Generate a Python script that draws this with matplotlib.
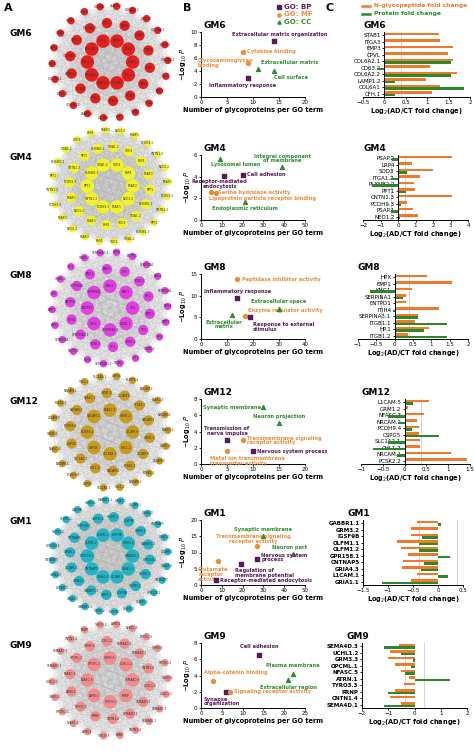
import numpy as np
import matplotlib.pyplot as plt
from itertools import combinations

W, H = 474, 755
BP_C, MF_C, CC_C = '#5a1a5a', '#ee8c3a', '#2f8f2f'
OR_C, GR_C = '#f07a2a', '#2a8a2a'

modules = ["GM6", "GM4", "GM8", "GM12", "GM1", "GM9"]
node_colors = ['#e61e1e', '#f2f22a', '#e23ee2', '#c89a1e', '#22b4c4', '#f28c8c']
ring_counts = [(10, 14, 22), (10, 16, 24), (8, 14, 22), (8, 14, 22), (10, 16, 24), (8, 14, 22)]

# ---------- bar data (N-glycopeptide, protein) ----------
genes = {
    "GM6": ["STAB1", "ITGA3", "EMP3", "CPVL", "COL6A2.1", "CD63.2", "COL6A2.2", "LAMP1.2", "COL6A1", "CFH.1"],
    "GM4": ["PSAP.2", "LRP4", "SOD3", "ITGA1.2", "PLXNB2.2", "PPT1", "CNTN1.3", "PCDH9.3", "PSAP.1", "NEO1.2"],
    "GM8": ["HPX", "EMP1", "KNG1", "SERPINA1", "ENTPD1", "ITIH4", "SERPINA3.1", "ITGB1.1", "HP.1", "ITGB1.2"],
    "GM12": ["L1CAM.5", "GRM1.2", "NFASC.3", "NRCAM.2", "PCDH9.4", "CSPG5", "SLC1A2.1", "CHL1.2", "NRCAM.1", "PCSK2.2"],
    "GM1": ["GABBR1.1", "GRM3.2", "IGSF9B", "OLFM1.1", "OLFM1.2", "GPR158.1", "CNTNAP5", "GRIA4.3", "L1CAM.1", "GRIA1.1"],
    "GM9": ["SEMA4D.3", "UCHL1.2", "GRM3.3", "OPCML.1", "NFASC.5", "ATRN.1", "TYRO3.3", "PRNP", "CNTN1.4", "SEMA4D.1"],
}
glyco_fc = {
    "GM6": [1.28, 1.3, 1.6, 1.48, 1.6, 1.07, 1.7, 0.98, 1.3, 1.12],
    "GM4": [3.1, 0.8, 2.0, 1.25, 0.9, 0.95, 3.1, 0.5, 0.85, 1.15],
    "GM8": [0.88, 1.57, 0.48, 0.3, 0.3, 1.2, 0.63, 0.55, 0.95, 0.37],
    "GM12": [0.57, 0.08, 0.45, 0.28, 0.32, 0.33, 0.35, 0.35, 1.07, 1.42],
    "GM1": [-0.42, -0.55, -0.55, -0.83, -0.75, -0.6, -0.7, -0.72, -0.43, -0.55],
    "GM9": [-0.6, -0.95, -1.0, -0.75, -0.5, -0.2, -0.4, -0.75, -0.95, -0.5],
}
protein_fc = {
    "GM6": [0, 0, 0, 0, 1.55, -0.17, 1.55, 0.25, 1.85, 0.25],
    "GM4": [-0.35, 0, 0.5, -0.4, -1.5, 0.45, 0, 0.15, -0.4, 0.1],
    "GM8": [0, 0, -0.68, 0.24, 0, -0.05, 0.63, 1.42, 0.8, 1.42],
    "GM12": [0.2, 0, -0.37, -0.15, 0.18, 0.78, -0.37, -0.72, -0.18, 0],
    "GM1": [0.05, 0, -0.33, -0.38, -0.38, 0.23, -0.28, -0.35, 0.2, -1.12],
    "GM9": [-1.15, -0.5, -0.05, -0.15, -0.35, 1.35, 0, -1.0, 0, -1.15],
}
bar_xlim = {"GM6": (-0.5, 2.0), "GM4": (-2, 4), "GM8": (-1, 2), "GM12": (-1, 1.5), "GM1": (-1.5, 0.5), "GM9": (-2, 2)}
bar_xticks = {"GM6": [-0.5, 0, 0.5, 1, 1.5, 2], "GM4": [-2, -1, 0, 1, 2, 3, 4], "GM8": [-1, -0.5, 0, 0.5, 1, 1.5, 2],
              "GM12": [-1, -0.5, 0, 0.5, 1, 1.5], "GM1": [-1.5, -1, -0.5, 0, 0.5], "GM9": [-2, -1, 0, 1, 2]}

# ---------- GO scatter data: (term, category, count, -log10 P, label dx, dy, ha) ----------
go_terms = {
    "GM6": [("Extracellular matrix organization", "BP", 14, 8.6, 4, 5, 'center'),
            ("Inflammatory response", "BP", 9, 2.9, -4, -5, 'center'),
            ("Cytokine binding", "MF", 8, 7.0, 3, 0, 'left'),
            ("Glycosaminoglycan\nbinding", "MF", 9, 5.2, -36, 0, 'left'),
            ("Extracellular matrix", "CC", 11, 4.3, 2, 5, 'left'),
            ("Cell surface", "CC", 14, 4.0, 0, -5, 'left')],
    "GM4": [("Lysosomal lumen", "CC", 9, 5.6, -6, -4, 'left'),
            ("Integral component\nof membrane", "CC", 39, 4.9, 0, 6, 'center'),
            ("Endoplasmic reticulum", "CC", 21, 1.7, 0, -5, 'center'),
            ("Receptor-mediated\nendocytosis", "BP", 11, 4.1, -3, -6, 'center'),
            ("Cell adhesion", "BP", 20, 4.2, 3, 0, 'left'),
            ("Serine hydrolase activity", "MF", 7, 2.5, 2, 0, 'left'),
            ("Lipoprotein particle receptor binding", "MF", 5, 2.6, -2, -5, 'left')],
    "GM8": [("Peptidase inhibitor activity", "MF", 14, 13.8, 3, 0, 'left'),
            ("Enzyme regulator activity", "MF", 17, 5.2, 2, 4, 'left'),
            ("Inflammatory response", "BP", 14, 9.4, 0, 5, 'center'),
            ("Response to external\nstimulus", "BP", 19, 5.0, 2, -7, 'left'),
            ("Extracellular space", "CC", 30, 7.0, 0, 5, 'center'),
            ("Extracellular\nmatrix", "CC", 12, 5.6, -6, -7, 'center')],
    "GM12": [("Synaptic membrane", "CC", 12, 7.0, -2, 0, 'right'),
             ("Neuron projection", "CC", 15, 5.0, 0, 5, 'center'),
             ("Transmission of\nnerve impulse", "BP", 5, 2.9, 0, 7, 'center'),
             ("Nervous system process", "BP", 10, 1.6, 3, 0, 'left'),
             ("Transmembrane signaling\nreceptor activity", "MF", 8, 2.9, 3, 0, 'left'),
             ("Metal ion transmembrane\ntransporter activity", "MF", 5, 1.6, -12, -7, 'left')],
    "GM1": [("Synaptic membrane", "CC", 30, 15.0, 0, 5, 'center'),
            ("Neuron part", "CC", 44, 9.5, -2, 5, 'center'),
            ("Transmembrane signaling\nreceptor activity", "MF", 27, 12.0, -3, 5, 'center'),
            ("Glutamate\nreceptor\nactivity", "MF", 8, 7.5, -14, -10, 'left'),
            ("Nervous system\nprocess", "BP", 27, 8.0, 3, 1, 'left'),
            ("Regulation of\nmembrane potential", "BP", 19, 6.5, -4, -6.5, 'left'),
            ("Receptor-mediated endocytosis", "BP", 7, 1.5, 3, 0, 'left')],
    "GM9": [("Cell adhesion", "BP", 14, 6.5, 0, 6, 'center'),
            ("Synapse\norganization", "BP", 6, 2.0, -16, -7, 'left'),
            ("Alpha-catenin binding", "MF", 3, 3.3, -7, 6, 'left'),
            ("Signaling receptor activity", "MF", 7, 2.0, 3, 0, 'left'),
            ("Plasma membrane", "CC", 22, 4.2, 0, 6, 'center'),
            ("Extracellular region", "CC", 21, 3.5, 0, -6, 'center')],
}
sc_lims = {"GM6": (20, 10, [0, 5, 10, 15, 20], [0, 2, 4, 6, 8, 10]),
           "GM4": (50, 6, [0, 10, 20, 30, 40, 50], [0, 2, 4, 6]),
           "GM8": (40, 15, [0, 10, 20, 30, 40], [0, 5, 10, 15]),
           "GM12": (20, 8, [0, 5, 10, 15, 20], [0, 2, 4, 6, 8]),
           "GM1": (50, 20, [0, 10, 20, 30, 40, 50], [0, 5, 10, 15, 20]),
           "GM9": (25, 8, [0, 5, 10, 15, 20, 25], [0, 2, 4, 6, 8])}

cat_style = {"BP": (BP_C, 's'), "MF": (MF_C, 'o'), "CC": (CC_C, '^')}

tops = [32, 155, 274, 399, 520, 643]
net_cy = [62, 186, 308, 432, 556, 680]
bar_box = [(363, 470), (363, 468), (358, 468), (361, 470), (363, 463), (362, 467)]

fig = plt.figure(figsize=(W / 100, H / 100), dpi=100)
fig.patch.set_facecolor('white')


def ax_px(l, t, r, b):
    return fig.add_axes([l / W, 1 - b / H, (r - l) / W, (b - t) / H])


def minus_fmt(v, p):
    return ('%g' % v).replace('-', '\u2212')


for k, gm in enumerate(modules):
    # ---- network ----
    cy = net_cy[k]
    ax = ax_px(44, cy - 64, 176, cy + 64)
    ax.set_xlim(-1.05, 1.05)
    ax.set_ylim(-1.05, 1.05)
    ax.axis('off')
    xs, ys, ss = [], [], []
    for ri, (n, rad, sz) in enumerate(zip(ring_counts[k], [0.36, 0.64, 0.92], [95, 55, 28])):
        th = np.linspace(0, 2 * np.pi, n, endpoint=False) + ri * 0.3
        xs += list(rad * np.cos(th))
        ys += list(rad * np.sin(th))
        ss += [sz] * n
    xs, ys = np.array(xs), np.array(ys)
    for i, j in combinations(range(len(xs)), 2):
        ax.plot([xs[i], xs[j]], [ys[i], ys[j]], color='#b8b8b8', lw=0.2, alpha=0.55, zorder=1)
    ax.scatter(xs, ys, s=ss, color=node_colors[k], edgecolor='none', zorder=2)
    names = genes[gm]
    for i in range(len(xs)):
        ax.text(xs[i], ys[i], names[i % len(names)], fontsize=2.2, ha='center', va='center', color='#333333', zorder=3)
    fig.text(10 / W, 1 - (tops[k] + 2) / H, gm, fontsize=6.5, fontweight='bold', va='center')

    # ---- GO scatter ----
    t = tops[k]
    ax = ax_px(201, t, 305, t + 65)
    xm, ym, xt, yt = sc_lims[gm]
    for term, cat, cnt, lp, dx, dy, ha in go_terms[gm]:
        c, m = cat_style[cat]
        ax.scatter(cnt, lp, color=c, marker=m, s=8, zorder=3)
        ax.annotate(term, (cnt, lp), xytext=(dx, dy), textcoords='offset points', fontsize=3.7,
                    color=c, ha=ha, va='center', fontweight='bold', linespacing=0.9)
    ax.set_xlim(0, xm)
    ax.set_ylim(0, ym)
    ax.set_xticks(xt)
    ax.set_yticks(yt)
    ax.tick_params(labelsize=4, length=1.5, width=0.6, pad=1)
    for s in ['top', 'right']:
        ax.spines[s].set_visible(False)
    for s in ['left', 'bottom']:
        ax.spines[s].set_linewidth(0.7)
    ax.set_xlabel("Number of glycoproteins per GO term", fontsize=4.8, fontweight='bold', labelpad=1)
    ax.set_ylabel("$-$Log$_{10}$ $P$", fontsize=4.8, fontweight='bold', labelpad=1)
    ax.set_title(gm, fontsize=6.5, fontweight='bold', loc='left', pad=3, x=0.02)

    # ---- bars ----
    l, r = bar_box[k]
    ax = ax_px(l, t, r, t + 65)
    y = np.arange(len(genes[gm]))
    ax.barh(y - 0.19, glyco_fc[gm], height=0.32, color=OR_C, zorder=2)
    ax.barh(y + 0.19, protein_fc[gm], height=0.32, color=GR_C, zorder=2)
    ax.set_yticks(y)
    ax.set_yticklabels(genes[gm], fontsize=3.8, fontweight='bold')
    ax.set_ylim(len(y) - 0.5, -0.5)
    ax.set_xlim(*bar_xlim[gm])
    ax.set_xticks(bar_xticks[gm])
    ax.xaxis.set_major_formatter(plt.FuncFormatter(minus_fmt))
    for v in (-0.38, 0.38):
        ax.axvline(v, color='#cccccc', lw=0.6, zorder=1)
    ax.tick_params(labelsize=4, length=1.5, width=0.6, pad=1)
    for s in ['top', 'right']:
        ax.spines[s].set_visible(False)
    for s in ['left', 'bottom']:
        ax.spines[s].set_linewidth(0.7)
    if gm not in ("GM1", "GM9"):
        ax.spines['left'].set_position(('data', 0))
    ax.set_xlabel("Log$_2$(AD/CT fold change)", fontsize=4.8, fontweight='bold', labelpad=1)
    tx = -0.15 if gm in ("GM1", "GM9") else 0.0
    ax.set_title(gm, fontsize=6.5, fontweight='bold', loc='left', pad=3, x=tx)

# panel letters
for lab, x in [("A", 4), ("B", 183), ("C", 325)]:
    fig.text(x / W, 1 - 8 / H, lab, fontsize=8, fontweight='bold', va='center')

# legends
for i, (name, cat) in enumerate([("GO: BP", "BP"), ("GO: MF", "MF"), ("GO: CC", "CC")]):
    c, m = cat_style[cat]
    yy = 1 - (7 + 7.5 * i) / H
    fig.lines.append(plt.Line2D([279 / W], [yy], marker=m, color=c, ms=2.3, transform=fig.transFigure, ls=''))
    fig.text(284 / W, yy, name, fontsize=5, fontweight='bold', color=c, va='center')
for i, (name, c) in enumerate([("N-glycopeptide fold change", OR_C), ("Protein fold change", GR_C)]):
    yy = 1 - (6 + 8 * i) / H
    fig.lines.append(plt.Line2D([362 / W, 370 / W], [yy, yy], color=c, lw=1.8, transform=fig.transFigure))
    fig.text(374 / W, yy, name, fontsize=4.3, fontweight='bold', color=c, va='center')

fig.savefig("out.png", dpi=100)
